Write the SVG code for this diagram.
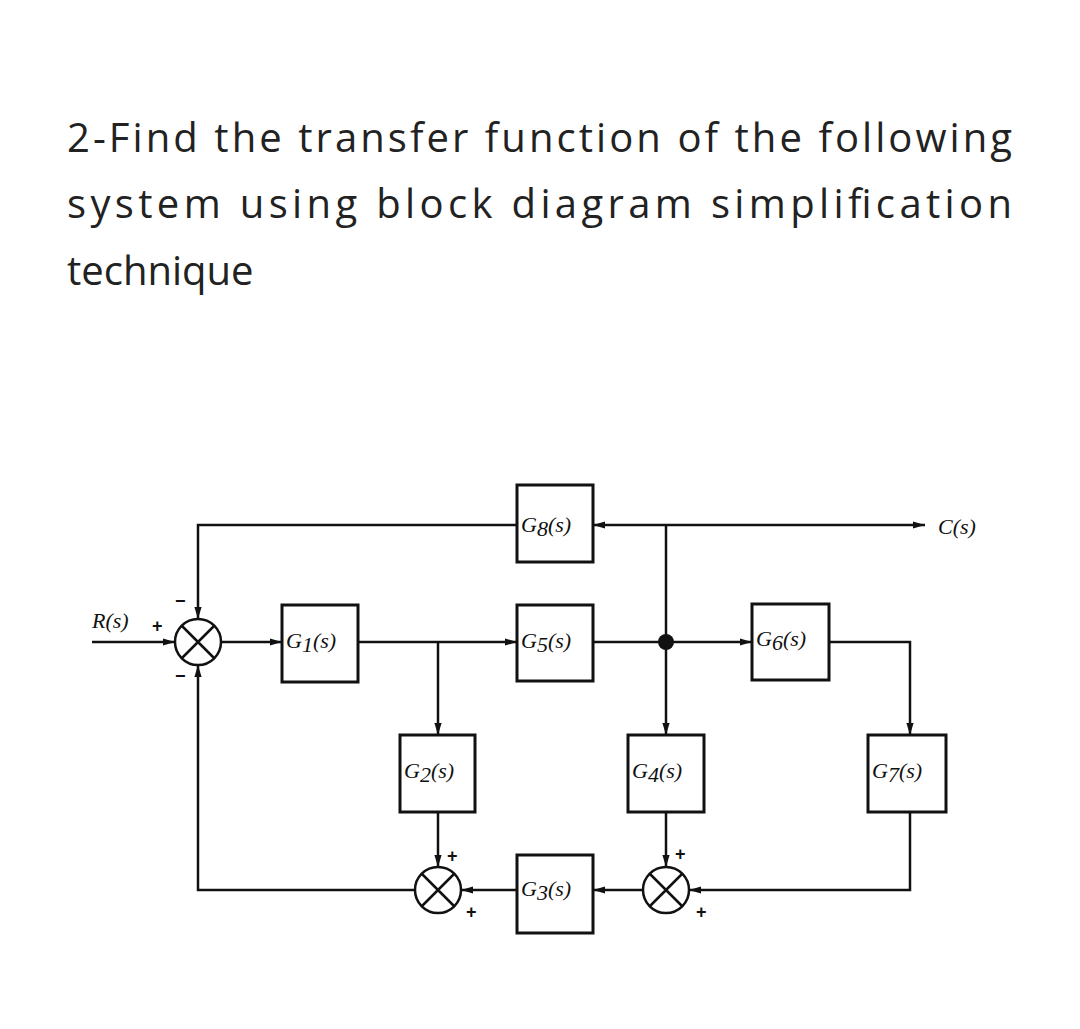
<svg xmlns="http://www.w3.org/2000/svg" width="1080" height="1029" viewBox="0 0 1080 1029">
<style>
.t{font-family:"Open Sans","Liberation Sans",sans-serif;font-size:40px;fill:#222}
.l{font-family:"Liberation Serif",serif;font-style:italic;font-size:22px;fill:#111}
.s{font-family:"Liberation Sans",sans-serif;font-size:18px;font-weight:bold;fill:#111}
.b{fill:#fff;stroke:#111;stroke-width:3}
.w{fill:none;stroke:#111;stroke-width:2.5}
.c{fill:#fff;stroke:#111;stroke-width:2.5}
</style>
<defs><marker id="a" viewBox="0 0 10 10" refX="10" refY="5" markerWidth="6" markerHeight="6" orient="auto" markerUnits="userSpaceOnUse"><path d="M0,1 L10,5 L0,9 z" fill="#111"/></marker>
<marker id="m" viewBox="0 0 10 10" refX="10" refY="5" markerWidth="12" markerHeight="12" orient="auto" markerUnits="userSpaceOnUse"><path d="M0,2 L10,5 L0,8 z" fill="#111"/></marker></defs>
<rect width="1080" height="1029" fill="#fff"/>
<text class="t" x="67" y="152" textLength="945" lengthAdjust="spacing">2-Find the transfer function of the following</text>
<text class="t" x="67" y="218" textLength="945" lengthAdjust="spacing">system using block diagram simplification</text>
<text class="t" x="67" y="285">technique</text>
<g id="connectors">
<path class="w" d="M92,642 H175" marker-end="url(#m)"/>
<path class="w" d="M221,642 H282" marker-end="url(#m)"/>
<path class="w" d="M358,642 H517" marker-end="url(#m)"/>
<path class="w" d="M438,642 V735" marker-end="url(#m)"/>
<path class="w" d="M438,812 V867" marker-end="url(#m)"/>
<path class="w" d="M593,642 H752" marker-end="url(#m)"/>
<path class="w" d="M829,642 H910 V735" marker-end="url(#m)"/>
<path class="w" d="M910,812 V890 H689" marker-end="url(#m)"/>
<path class="w" d="M666,525 V735" marker-end="url(#m)"/>
<path class="w" d="M666,812 V867" marker-end="url(#m)"/>
<path class="w" d="M643,890 H593" marker-end="url(#m)"/>
<path class="w" d="M517,890 H461" marker-end="url(#m)"/>
<path class="w" d="M415,890 H198 V665" marker-end="url(#m)"/>
<path class="w" d="M666,525 H593" marker-end="url(#m)"/>
<path class="w" d="M666,525 H925" marker-end="url(#m)"/>
<path class="w" d="M517,525 H198 V619" marker-end="url(#m)"/>
<circle cx="666" cy="642" r="8" fill="#111"/>
</g>
<g id="sum1"><circle class="c" cx="198" cy="642" r="23"/><path class="w" d="M182,626 L214,658 M214,626 L182,658"/></g>
<g id="sum2"><circle class="c" cx="438" cy="890" r="23"/><path class="w" d="M422,874 L454,906 M454,874 L422,906"/></g>
<g id="sum3"><circle class="c" cx="666" cy="890" r="23"/><path class="w" d="M650,874 L682,906 M682,874 L650,906"/></g>
<g id="signs">
<text class="s" x="152" y="632">+</text><text class="s" x="175" y="607">−</text><text class="s" x="175" y="682">−</text>
<text class="s" x="447" y="862">+</text><text class="s" x="466" y="918">+</text>
<text class="s" x="675" y="860">+</text><text class="s" x="696" y="918">+</text>
</g>
<g id="R"><text class="l" x="92" y="628">R(s)</text></g>
<g id="C"><text class="l" x="938" y="534">C(s)</text></g>
<g id="G8"><rect class="b" x="517" y="485" width="76" height="77"/><text class="l" x="521" y="532">G<tspan dy="4">8</tspan><tspan dy="-4">(s)</tspan></text></g>
<g id="G1"><rect class="b" x="282" y="605" width="76" height="77"/><text class="l" x="286" y="648">G<tspan dy="4">1</tspan><tspan dy="-4">(s)</tspan></text></g>
<g id="G5"><rect class="b" x="517" y="605" width="76" height="76"/><text class="l" x="521" y="648">G<tspan dy="4">5</tspan><tspan dy="-4">(s)</tspan></text></g>
<g id="G6"><rect class="b" x="752" y="604" width="77" height="76"/><text class="l" x="756" y="646">G<tspan dy="4">6</tspan><tspan dy="-4">(s)</tspan></text></g>
<g id="G2"><rect class="b" x="400" y="735" width="75" height="77"/><text class="l" x="404" y="778">G<tspan dy="4">2</tspan><tspan dy="-4">(s)</tspan></text></g>
<g id="G4"><rect class="b" x="628" y="735" width="76" height="77"/><text class="l" x="632" y="778">G<tspan dy="4">4</tspan><tspan dy="-4">(s)</tspan></text></g>
<g id="G7"><rect class="b" x="868" y="735" width="78" height="77"/><text class="l" x="872" y="778">G<tspan dy="4">7</tspan><tspan dy="-4">(s)</tspan></text></g>
<g id="G3"><rect class="b" x="517" y="855" width="76" height="78"/><text class="l" x="521" y="896">G<tspan dy="4">3</tspan><tspan dy="-4">(s)</tspan></text></g>
</svg>
